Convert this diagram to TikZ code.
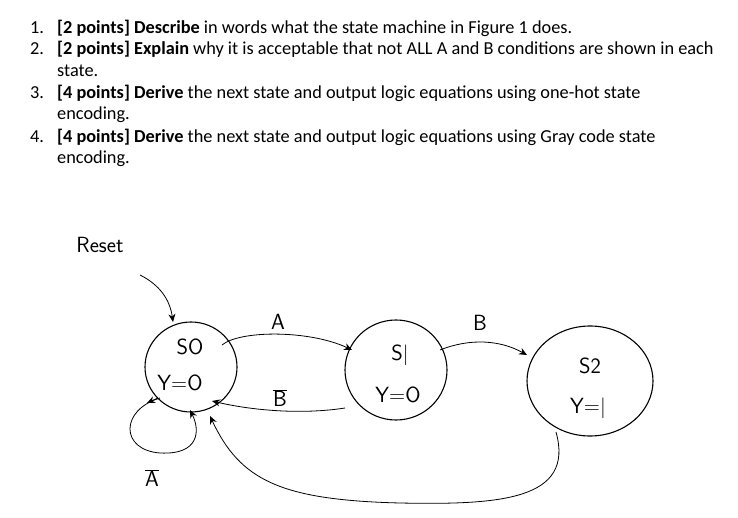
\documentclass[tikz,border=0pt]{standalone}
\usepackage{fontspec}
\setmainfont{Carlito}
\usetikzlibrary{arrows.meta}
\begin{document}
\begin{tikzpicture}[x=1pt,y=-1pt,
  q/.style={anchor=west,font=\fontsize{18.3}{20}\selectfont,inner sep=0},
  hand/.style={font=\fontsize{22}{24}\sffamily,inner sep=1},
  edge/.style={-{Stealth[length=8pt,width=7pt]},line width=0.8pt}]
\useasboundingbox (0,0) rectangle (738,518);
\node[q] (n1) at (30,28) {1.};
\node[q] (t1) at (57,28) {\textbf{[2 points] Describe} in words what the state machine in Figure 1 does.};
\node[q] (n2) at (30,49) {2.};
\node[q] (t2) at (57,49) {\textbf{[2 points] Explain} why it is acceptable that not ALL A and B conditions are shown in each};
\node[q] (t2b) at (57,71) {state.};
\node[q] (n3) at (30,93) {3.};
\node[q] (t3) at (57,93) {\textbf{[4 points] Derive} the next state and output logic equations using one-hot state};
\node[q] (t3b) at (57,115) {encoding.};
\node[q] (n4) at (30,137) {4.};
\node[q] (t4) at (57,137) {\textbf{[4 points] Derive} the next state and output logic equations using Gray code state};
\node[q] (t4b) at (57,159) {encoding.};
\draw[line width=1.1pt] (191,367) ellipse (46 and 45);
\draw[line width=1.1pt] (396,370) ellipse (51 and 50);
\draw[line width=1.1pt] (590,381) ellipse (63 and 55);
\node (s0) at (191,367) [minimum size=90pt,circle] {};
\node (s1) at (396,370) [minimum size=100pt,circle] {};
\node (s2) at (590,381) [minimum size=110pt,circle] {};
\node[hand] (reset) at (100,245) {Reset};
\node[hand] at (190,347) {SO};
\node[hand] at (180,383) {Y=O};
\node[hand] at (400,355) {S$|$};
\node[hand] at (398,395) {Y=O};
\node[hand] at (590,366) {S2};
\node[hand] at (588,408) {Y=$|$};
\node[hand] (la) at (278,322) {A};
\node[hand] (lb) at (480,323) {B};
\node[hand] (lnb) at (280,398) {$\overline{\mbox{B}}$};
\node[hand] (lna) at (152,478) {$\overline{\mbox{A}}$};
\coordinate (r0) at (140,275);
\draw[edge] (r0) .. controls (160,285) and (170,300) .. (173,322);
\draw[edge] (222,345) .. controls (240,330) and (310,330) .. (352,350);
\draw[edge] (345,408) .. controls (300,415) and (250,410) .. (212,401);
\draw[edge] (440,350) .. controls (470,338) and (500,340) .. (527,355);
\draw[edge] (556,432) .. controls (575,500) and (500,505) .. (400,503) .. controls (280,500) and (240,480) .. (210,416);
\draw[edge] (160,398) .. controls (120,410) and (120,450) .. (160,453) .. controls (200,455) and (200,430) .. (190,410);
\draw[edge] (158,398) -- (147,403);
\end{tikzpicture}
\end{document}
